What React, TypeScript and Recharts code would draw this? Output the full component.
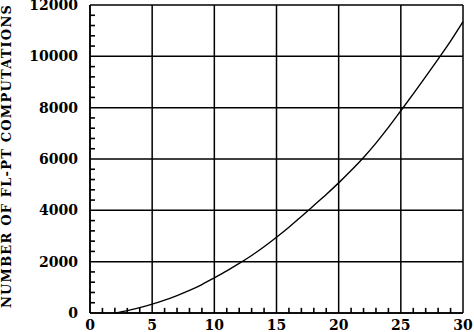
import React from 'react';
import { LineChart, Line, XAxis, YAxis, CartesianGrid, ReferenceLine } from 'recharts';

const xValues = [2, 3, 4, 5, 6, 7, 8, 9, 10, 11, 12, 13, 14, 15, 16, 17, 18, 19, 20, 21, 22, 23, 24, 25, 26, 27, 28, 29, 30];
const computations = [0, 90, 210, 345, 500, 680, 880, 1110, 1370, 1640, 1930, 2240, 2580, 2950, 3340, 3760, 4190, 4620, 5070, 5550, 6060, 6620, 7230, 7880, 8540, 9210, 9890, 10590, 11350];
const xTicks = [0, 5, 10, 15, 20, 25, 30];
const yTicks = [0, 2000, 4000, 6000, 8000, 10000, 12000];
const xMinorTicks = [1, 2, 3, 4, 6, 7, 8, 9, 11, 12, 13, 14, 16, 17, 18, 19, 21, 22, 23, 24, 26, 27, 28, 29];
const yMinorTicks = [400, 800, 1200, 1600, 2400, 2800, 3200, 3600, 4400, 4800, 5200, 5600, 6400, 6800, 7200, 7600, 8400, 8800, 9200, 9600, 10400, 10800, 11200, 11600];
const yLabel = 'NUMBER OF FL-PT COMPUTATIONS';

const data = xValues.map((x, i) => ({ x, y: computations[i] }));

const font = "'DejaVu Serif', serif";
// minor tick length expressed in axis units (about 5px)
const X_MINOR_LEN = 200;
const Y_MINOR_LEN = 0.4;

const YLabel = (props: any) => {
  const vb = props.viewBox || {};
  const cx = 6;
  const cy = vb.y + vb.height / 2 - 3;
  return (
    <text
      x={cx}
      y={cy}
      transform={`rotate(-90 ${cx} ${cy})`}
      textAnchor="middle"
      dominantBaseline="central"
      fontFamily={font}
      fontWeight="bold"
      fontSize={13}
      letterSpacing={1.2}
      fill="#000"
    >
      {yLabel}
    </text>
  );
};

export default function App() {
  return (
    <div style={{ position: 'absolute', left: 0, top: 0, width: 474, height: 332, background: '#fff' }}>
      <LineChart width={474} height={332} data={data} margin={{ top: 5, right: 11, bottom: 0, left: 0 }}>
        <CartesianGrid stroke="#000" strokeWidth={1.5} horizontalValues={yTicks} verticalValues={xTicks} />
        <XAxis
          dataKey="x"
          type="number"
          domain={[0, 30]}
          ticks={xTicks}
          interval={0}
          height={19}
          tickLine={false}
          tickSize={0}
          tickMargin={7}
          axisLine={{ stroke: '#000', strokeWidth: 1.5 }}
          tick={{ fill: '#000', fontFamily: font, fontWeight: 'bold', fontSize: 14 }}
        />
        <YAxis
          type="number"
          domain={[0, 12000]}
          ticks={yTicks}
          interval={0}
          width={90}
          tickLine={false}
          tickSize={0}
          tickMargin={12}
          axisLine={{ stroke: '#000', strokeWidth: 1.5 }}
          tick={{ fill: '#000', fontFamily: font, fontWeight: 'bold', fontSize: 14 }}
          label={<YLabel />}
        />
        {xMinorTicks.map((v) => (
          <ReferenceLine
            key={`xm${v}`}
            segment={[{ x: v, y: 0 }, { x: v, y: X_MINOR_LEN }]}
            stroke="#000"
            strokeWidth={1.6}
            ifOverflow="visible"
          />
        ))}
        {yMinorTicks.map((v) => (
          <ReferenceLine
            key={`ym${v}`}
            segment={[{ x: 0, y: v }, { x: Y_MINOR_LEN, y: v }]}
            stroke="#000"
            strokeWidth={1.6}
            ifOverflow="visible"
          />
        ))}
        <Line
          type="monotone"
          dataKey="y"
          stroke="#000"
          strokeWidth={1.4}
          dot={false}
          isAnimationActive={false}
        />
      </LineChart>
    </div>
  );
}
